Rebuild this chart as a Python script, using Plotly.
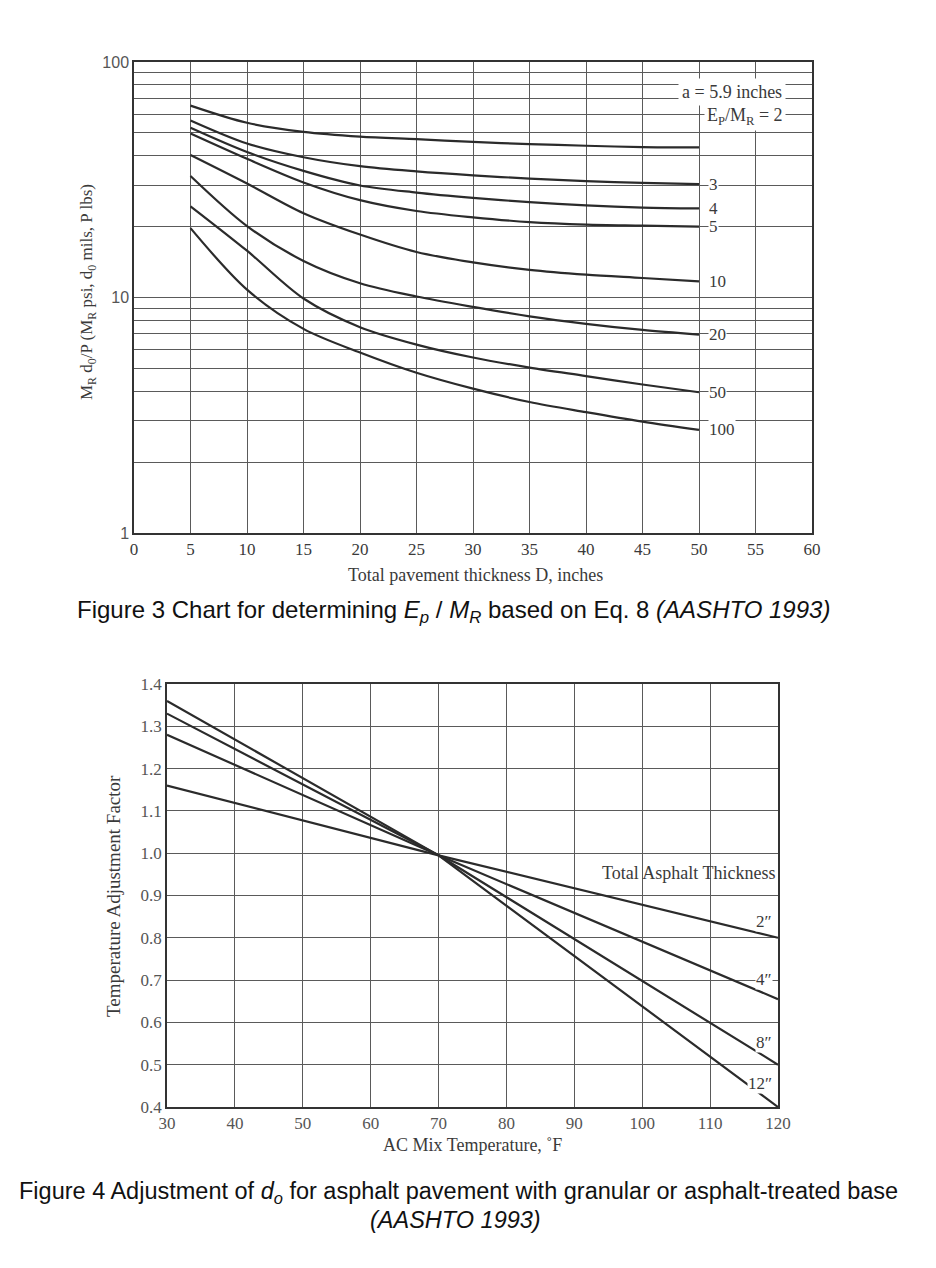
import math
import plotly.graph_objects as go

# ---------------- Figure 3 data ----------------
thickness = [5, 10, 15, 20, 25, 30, 35, 40, 45, 50]
ep_mr_labels = ["2", "3", "4", "5", "10", "20", "50", "100"]
ratio_2 = [65.3, 55.2, 50.5, 48.2, 47.0, 45.8, 44.8, 44.1, 43.5, 43.4]
ratio_3 = [56.5, 45.1, 39.4, 36.1, 34.3, 33.0, 32.0, 31.2, 30.7, 30.3]
ratio_4 = [52.6, 41.5, 34.5, 29.9, 27.9, 26.5, 25.4, 24.6, 24.1, 23.9]
ratio_5 = [49.7, 38.8, 30.8, 25.9, 23.3, 21.9, 20.9, 20.4, 20.2, 20.0]
ratio_10 = [40.3, 30.5, 22.8, 18.5, 15.6, 14.1, 13.1, 12.5, 12.1, 11.7]
ratio_20 = [32.8, 20.1, 14.3, 11.5, 10.1, 9.12, 8.32, 7.73, 7.28, 6.96]
ratio_50 = [24.4, 15.8, 9.9, 7.48, 6.31, 5.56, 5.04, 4.64, 4.27, 3.96]
ratio_100 = [19.7, 10.8, 7.36, 5.84, 4.79, 4.10, 3.60, 3.26, 2.97, 2.74]
fig3_series = [ratio_2, ratio_3, ratio_4, ratio_5, ratio_10, ratio_20, ratio_50, ratio_100]
fig3_x_ticks = [0, 5, 10, 15, 20, 25, 30, 35, 40, 45, 50, 55, 60]
fig3_y_labels = {1: "1", 10: "10", 100: "100"}

# ---------------- Figure 4 data ----------------
temperature = [30, 70, 120]
asphalt_labels = ["2″", "4″", "8″", "12″"]
factor_2in = [1.16, 0.995, 0.80]
factor_4in = [1.28, 0.995, 0.655]
factor_8in = [1.33, 0.995, 0.50]
factor_12in = [1.36, 0.995, 0.40]
fig4_series = [factor_2in, factor_4in, factor_8in, factor_12in]
fig4_x_ticks = [30, 40, 50, 60, 70, 80, 90, 100, 110, 120]
fig4_y_ticks = [0.4, 0.5, 0.6, 0.7, 0.8, 0.9, 1.0, 1.1, 1.2, 1.3, 1.4]

# the page body keeps an 8px margin, so the figure starts at (8, 8)
OFF = 8
W, H = 936 - 2 * OFF, 1268 - 2 * OFF
SERIF = "Liberation Serif, Times New Roman, serif"
SANS = "Liberation Sans, Arial, sans-serif"
LINE = "#2b2b2b"
GRID = "#5a5a5a"
TXT = "#3a3a3a"


def px_x(p):
    return (p - OFF) / W


def px_y(p):
    return 1 - (p - OFF) / H


fig = go.Figure()

for vals, lab in zip(fig3_series, ep_mr_labels):
    fig.add_trace(go.Scatter(
        x=thickness, y=vals, mode="lines", name=lab,
        line=dict(color=LINE, width=2.2, shape="spline", smoothing=0.9),
        xaxis="x", yaxis="y", showlegend=False, hoverinfo="skip"))

for vals, lab in zip(fig4_series, asphalt_labels):
    fig.add_trace(go.Scatter(
        x=temperature, y=vals, mode="lines", name=lab,
        line=dict(color=LINE, width=2.2),
        xaxis="x2", yaxis="y2", showlegend=False, hoverinfo="skip"))

# log grid values 1..100
log_vals = [m * d for d in (1, 10) for m in range(1, 10)] + [100]
log_text = [fig3_y_labels.get(v, "") for v in log_vals]

axis_common = dict(showline=True, mirror=True, linecolor="#333", linewidth=1.5,
                   showgrid=True, gridcolor=GRID, gridwidth=1, zeroline=False,
                   ticks="", fixedrange=True, automargin=False)

annotations = []


def ann(**kw):
    base = dict(showarrow=False, xanchor="center", yanchor="middle")
    base.update(kw)
    annotations.append(base)


# Figure 3 curve labels
for vals, lab in zip(fig3_series[1:], ep_mr_labels[1:]):
    ann(x=thickness[-1], y=math.log10(vals[-1]), xref="x", yref="y",
        text=lab, xanchor="left", xshift=9,
        font=dict(family=SERIF, size=17, color=TXT), bgcolor="white", borderpad=0)
ann(x=px_x(786), y=px_y(92), xref="paper", yref="paper",
    text="a = 5.9 inches", xanchor="right",
    font=dict(family=SERIF, size=18, color=TXT), bgcolor="white", borderpad=3)
ann(x=px_x(786), y=px_y(116), xref="paper", yref="paper",
    text="E<sub>P</sub>/M<sub>R</sub> = " + ep_mr_labels[0], xanchor="right",
    font=dict(family=SERIF, size=18, color=TXT), bgcolor="white", borderpad=2)

# Figure 3 axis titles
ann(x=px_x(88), y=px_y(292), xref="paper", yref="paper", textangle=-90,
    text="M<sub>R</sub> d<sub>0</sub>/P (M<sub>R</sub> psi, d<sub>0</sub> mils, P lbs)",
    font=dict(family=SERIF, size=17, color=TXT))
ann(x=px_x(475), y=px_y(575), xref="paper", yref="paper",
    text="Total pavement thickness D, inches",
    font=dict(family=SERIF, size=18, color=TXT))

# Figure 3 caption
ann(x=px_x(453), y=px_y(612), xref="paper", yref="paper",
    text="Figure 3 Chart for determining <i>E<sub>p</sub></i> / <i>M<sub>R</sub></i> based on Eq. 8 <i>(AASHTO 1993)</i>",
    font=dict(family=SANS, size=24, color="#111"))

# Figure 4 labels
ann(x=fig4_x_ticks[-1], y=0.953, xref="x2", yref="y2",
    text="Total Asphalt Thickness", xanchor="right", xshift=-1,
    font=dict(family=SERIF, size=18, color=TXT))
shifts = [16, 20, 22, 24]
for vals, lab, sh in zip(fig4_series, asphalt_labels, shifts):
    ann(x=temperature[-1], y=vals[-1], xref="x2", yref="y2", text=lab,
        xanchor="right", xshift=-5, yshift=sh,
        font=dict(family=SERIF, size=17, color=TXT), bgcolor="white", borderpad=0)

ann(x=px_x(113), y=px_y(896), xref="paper", yref="paper", textangle=-90,
    text="Temperature Adjustment Factor",
    font=dict(family=SERIF, size=19, color=TXT))
ann(x=px_x(472), y=px_y(1145), xref="paper", yref="paper",
    text="AC Mix Temperature, ˚F",
    font=dict(family=SERIF, size=18, color=TXT))

ann(x=px_x(458), y=px_y(1192), xref="paper", yref="paper",
    text="Figure 4 Adjustment of <i>d<sub>o</sub></i> for asphalt pavement with granular or asphalt-treated base",
    font=dict(family=SANS, size=23.5, color="#111"))
ann(x=px_x(455), y=px_y(1220), xref="paper", yref="paper",
    text="<i>(AASHTO 1993)</i>",
    font=dict(family=SANS, size=23.5, color="#111"))

fig.update_layout(
    width=W, height=H, margin=dict(l=0, r=0, t=0, b=0, pad=0, autoexpand=False),
    paper_bgcolor="white", plot_bgcolor="white", showlegend=False,
    xaxis=dict(domain=[px_x(134), px_x(812)], range=[0, 60],
               tickvals=fig3_x_ticks, anchor="y",
               tickfont=dict(family=SERIF, size=17, color=TXT), **axis_common),
    yaxis=dict(domain=[px_y(533), px_y(62)], type="log", range=[0, 2],
               tickvals=log_vals, ticktext=log_text, anchor="x",
               tickfont=dict(family=SANS, size=16, color="#555"), **axis_common),
    xaxis2=dict(domain=[px_x(167), px_x(778)], range=[30, 120],
                tickvals=fig4_x_ticks, anchor="y2",
                tickfont=dict(family=SERIF, size=17, color="#555"), **axis_common),
    yaxis2=dict(domain=[px_y(1107), px_y(684)], range=[0.4, 1.4],
                tickvals=fig4_y_ticks, tickformat=".1f", anchor="x2",
                tickfont=dict(family=SERIF, size=17, color="#555"), **axis_common),
    annotations=annotations,
)

fig.write_html("out.html")
